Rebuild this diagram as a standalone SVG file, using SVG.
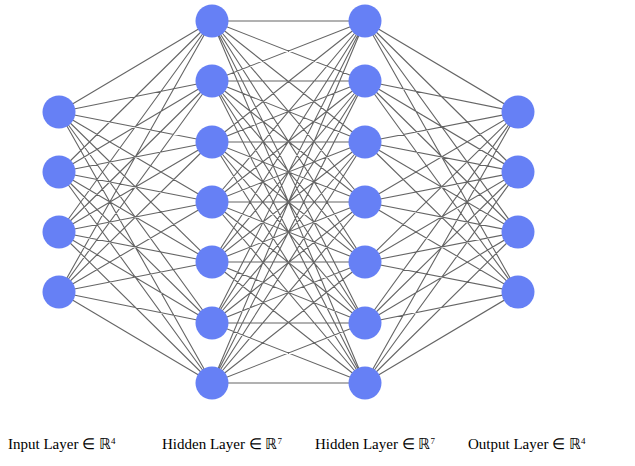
<svg xmlns="http://www.w3.org/2000/svg" width="635" height="466" viewBox="0 0 635 466">
<style>
.e{stroke:#555;stroke-width:1.1;opacity:0.9}
.n{fill:#6680f5}
.t{font-family:"Liberation Serif",serif;font-size:15px;fill:#000}
.s{font-size:9px}
</style>
<rect width="635" height="466" fill="#fff"/>
<g id="connectors"></g>
<g id="edges">
<path class="e" d="
M59,112L212,21M59,112L212,81M59,112L212,142M59,112L212,202M59,112L212,262M59,112L212,323M59,112L212,383
M59,172L212,21M59,172L212,81M59,172L212,142M59,172L212,202M59,172L212,262M59,172L212,323M59,172L212,383
M59,232L212,21M59,232L212,81M59,232L212,142M59,232L212,202M59,232L212,262M59,232L212,323M59,232L212,383
M59,292L212,21M59,292L212,81M59,292L212,142M59,292L212,202M59,292L212,262M59,292L212,323M59,292L212,383
M212,21L365,21M212,21L365,81M212,21L365,142M212,21L365,202M212,21L365,262M212,21L365,323M212,21L365,383
M212,81L365,21M212,81L365,81M212,81L365,142M212,81L365,202M212,81L365,262M212,81L365,323M212,81L365,383
M212,142L365,21M212,142L365,81M212,142L365,142M212,142L365,202M212,142L365,262M212,142L365,323M212,142L365,383
M212,202L365,21M212,202L365,81M212,202L365,142M212,202L365,202M212,202L365,262M212,202L365,323M212,202L365,383
M212,262L365,21M212,262L365,81M212,262L365,142M212,262L365,202M212,262L365,262M212,262L365,323M212,262L365,383
M212,323L365,21M212,323L365,81M212,323L365,142M212,323L365,202M212,323L365,262M212,323L365,323M212,323L365,383
M212,383L365,21M212,383L365,81M212,383L365,142M212,383L365,202M212,383L365,262M212,383L365,323M212,383L365,383
M518,112L365,21M518,112L365,81M518,112L365,142M518,112L365,202M518,112L365,262M518,112L365,323M518,112L365,383
M518,172L365,21M518,172L365,81M518,172L365,142M518,172L365,202M518,172L365,262M518,172L365,323M518,172L365,383
M518,232L365,21M518,232L365,81M518,232L365,142M518,232L365,202M518,232L365,262M518,232L365,323M518,232L365,383
M518,292L365,21M518,292L365,81M518,292L365,142M518,292L365,202M518,292L365,262M518,292L365,323M518,292L365,383"/>
</g>
<g id="input">
<circle class="n" cx="59" cy="112" r="16.5"/><circle class="n" cx="59" cy="172" r="16.5"/><circle class="n" cx="59" cy="232" r="16.5"/><circle class="n" cx="59" cy="292" r="16.5"/>
</g>
<g id="hidden1">
<circle class="n" cx="212" cy="21" r="16.5"/><circle class="n" cx="212" cy="81" r="16.5"/><circle class="n" cx="212" cy="142" r="16.5"/><circle class="n" cx="212" cy="202" r="16.5"/><circle class="n" cx="212" cy="262" r="16.5"/><circle class="n" cx="212" cy="323" r="16.5"/><circle class="n" cx="212" cy="383" r="16.5"/>
</g>
<g id="hidden2">
<circle class="n" cx="365" cy="21" r="16.5"/><circle class="n" cx="365" cy="81" r="16.5"/><circle class="n" cx="365" cy="142" r="16.5"/><circle class="n" cx="365" cy="202" r="16.5"/><circle class="n" cx="365" cy="262" r="16.5"/><circle class="n" cx="365" cy="323" r="16.5"/><circle class="n" cx="365" cy="383" r="16.5"/>
</g>
<g id="output">
<circle class="n" cx="518" cy="112" r="16.5"/><circle class="n" cx="518" cy="172" r="16.5"/><circle class="n" cx="518" cy="232" r="16.5"/><circle class="n" cx="518" cy="292" r="16.5"/>
</g>
<g id="labels">
<text class="t" x="8" y="449">Input Layer ∈ ℝ<tspan class="s" dy="-5">4</tspan></text>
<text class="t" x="162" y="449">Hidden Layer ∈ ℝ<tspan class="s" dy="-5">7</tspan></text>
<text class="t" x="315" y="449">Hidden Layer ∈ ℝ<tspan class="s" dy="-5">7</tspan></text>
<text class="t" x="468" y="449">Output Layer ∈ ℝ<tspan class="s" dy="-5">4</tspan></text>
</g>
</svg>
